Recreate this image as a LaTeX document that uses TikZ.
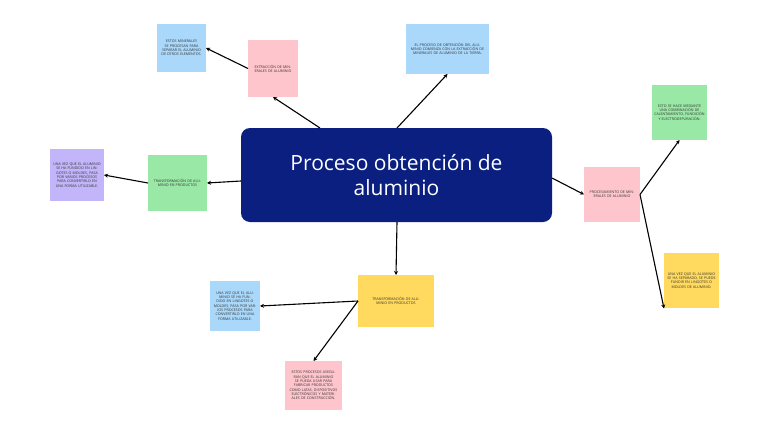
\documentclass[tikz,border=0pt]{standalone}
\usepackage{fontspec}
\setmainfont{Open Sans}
\usetikzlibrary{arrows.meta}
\definecolor{navy}{HTML}{0B1F80}
\definecolor{cblue}{HTML}{A9D8FB}
\definecolor{cpink}{HTML}{FFC5CD}
\definecolor{cgreen}{HTML}{99E8A6}
\definecolor{cpurple}{HTML}{C3B5F9}
\definecolor{cyellow}{HTML}{FFDA5E}
\tikzset{
  note/.style={anchor=north west,inner sep=1pt,align=center,font=\fontsize{3.6}{4.3}\selectfont,text=black!80},
  arr/.style={-{Stealth[length=4pt,width=4pt]},line width=1.1pt,black}
}
\newcommand{\sticky}[7]{% name, color, x1,y1,x2,y2, text
  \fill[#2] (#3,#4) rectangle (#5,#6);
  \node[note,text width={(#5-#3-4)*1pt},anchor=center] (#1) at ({(#3+#5)/2},{(#4+#6)/2}) {#7};
  \coordinate (#1-n) at ({(#3+#5)/2},#4);
  \coordinate (#1-s) at ({(#3+#5)/2},#6);
  \coordinate (#1-w) at (#3,{(#4+#6)/2});
  \coordinate (#1-e) at (#5,{(#4+#6)/2});
}
\begin{document}
\begin{tikzpicture}[x=1pt,y=-1pt]
\useasboundingbox[fill=white] (0,0) rectangle (768,431);
\fill[navy,rounded corners=9pt] (241,128) rectangle (552,222);
\node[text=white,align=center,font=\fontsize{21}{25}\selectfont] (c) at (396.5,175) {Proceso obtención de\\aluminio};
\coordinate (c-n1) at (320,128);
\coordinate (c-n2) at (397,128);
\coordinate (c-w) at (241,181);
\coordinate (c-e) at (552,178);
\coordinate (c-s) at (397,222);
\sticky{a1}{cblue}{157}{24}{206}{72}{ESTOS MINERALES SE PROCESAN PARA SEPARAR EL ALUMINIO DE OTROS ELEMENTOS.}
\sticky{a2}{cpink}{248}{40}{298}{97}{EXTRACCIÓN DE MINERALES DE ALUMINIO}
\sticky{a3}{cblue}{406}{24}{489}{74}{EL PROCESO DE OBTENCIÓN DEL ALUMINIO COMIENZA CON LA EXTRACCIÓN DE MINERALES DE ALUMINIO DE LA TIERRA.}
\sticky{b1}{cpurple}{50}{149}{104}{201}{UNA VEZ QUE EL ALUMINIO SE HA FUNDIDO EN LINGOTES O MOLDES, PASA POR VARIOS PROCESOS PARA CONVERTIRLO EN UNA FORMA UTILIZABLE.}
\sticky{b2}{cgreen}{148}{155}{207}{211}{TRANSFORMACIÓN DE ALUMINIO EN PRODUCTOS}
\sticky{c1}{cpink}{584}{167}{640}{222}{PROCESAMIENTO DE MINERALES DE ALUMINIO}
\sticky{c2}{cgreen}{652}{85}{707}{140}{ESTO SE HACE MEDIANTE UNA COMBINACIÓN DE CALENTAMIENTO, FUNDICIÓN Y ELECTRODEPURACIÓN.}
\sticky{c3}{cyellow}{664}{253}{719}{308}{UNA VEZ QUE EL ALUMINIO SE HA SEPARADO, SE PUEDE FUNDIR EN LINGOTES O MOLDES DE ALUMINIO.}
\sticky{d1}{cyellow}{358}{275}{434}{327}{TRANSFORMACIÓN DE ALUMINIO EN PRODUCTOS}
\sticky{d2}{cblue}{210}{281}{260}{331}{UNA VEZ QUE EL ALUMINIO SE HA FUNDIDO EN LINGOTES O MOLDES, PASA POR VARIOS PROCESOS PARA CONVERTIRLO EN UNA FORMA UTILIZABLE.}
\sticky{d3}{cpink}{285}{361}{342}{410}{ESTOS PROCESOS ASEGURAN QUE EL ALUMINIO SE PUEDA USAR PARA FABRICAR PRODUCTOS COMO LATAS, DISPOSITIVOS ELECTRÓNICOS Y MATERIALES DE CONSTRUCCIÓN.}
\draw[arr] (c-n1) -- (a2-s);
\draw[arr] (a2-w) -- (a1-e);
\draw[arr] (c-n2) -- (a3-s);
\draw[arr] (c-w) -- (b2-e);
\draw[arr] (b2-w) -- (b1-e);
\draw[arr] (c-e) -- (c1-w);
\draw[arr] (c1-e) -- (c2-s);
\draw[arr] (c1-e) -- ([yshift=-28]c3-w);
\draw[arr] (c-s) -- (d1-n);
\draw[arr] (d1-w) -- (d2-e);
\draw[arr] (d1-w) -- (d3-n);
\end{tikzpicture}
\end{document}
